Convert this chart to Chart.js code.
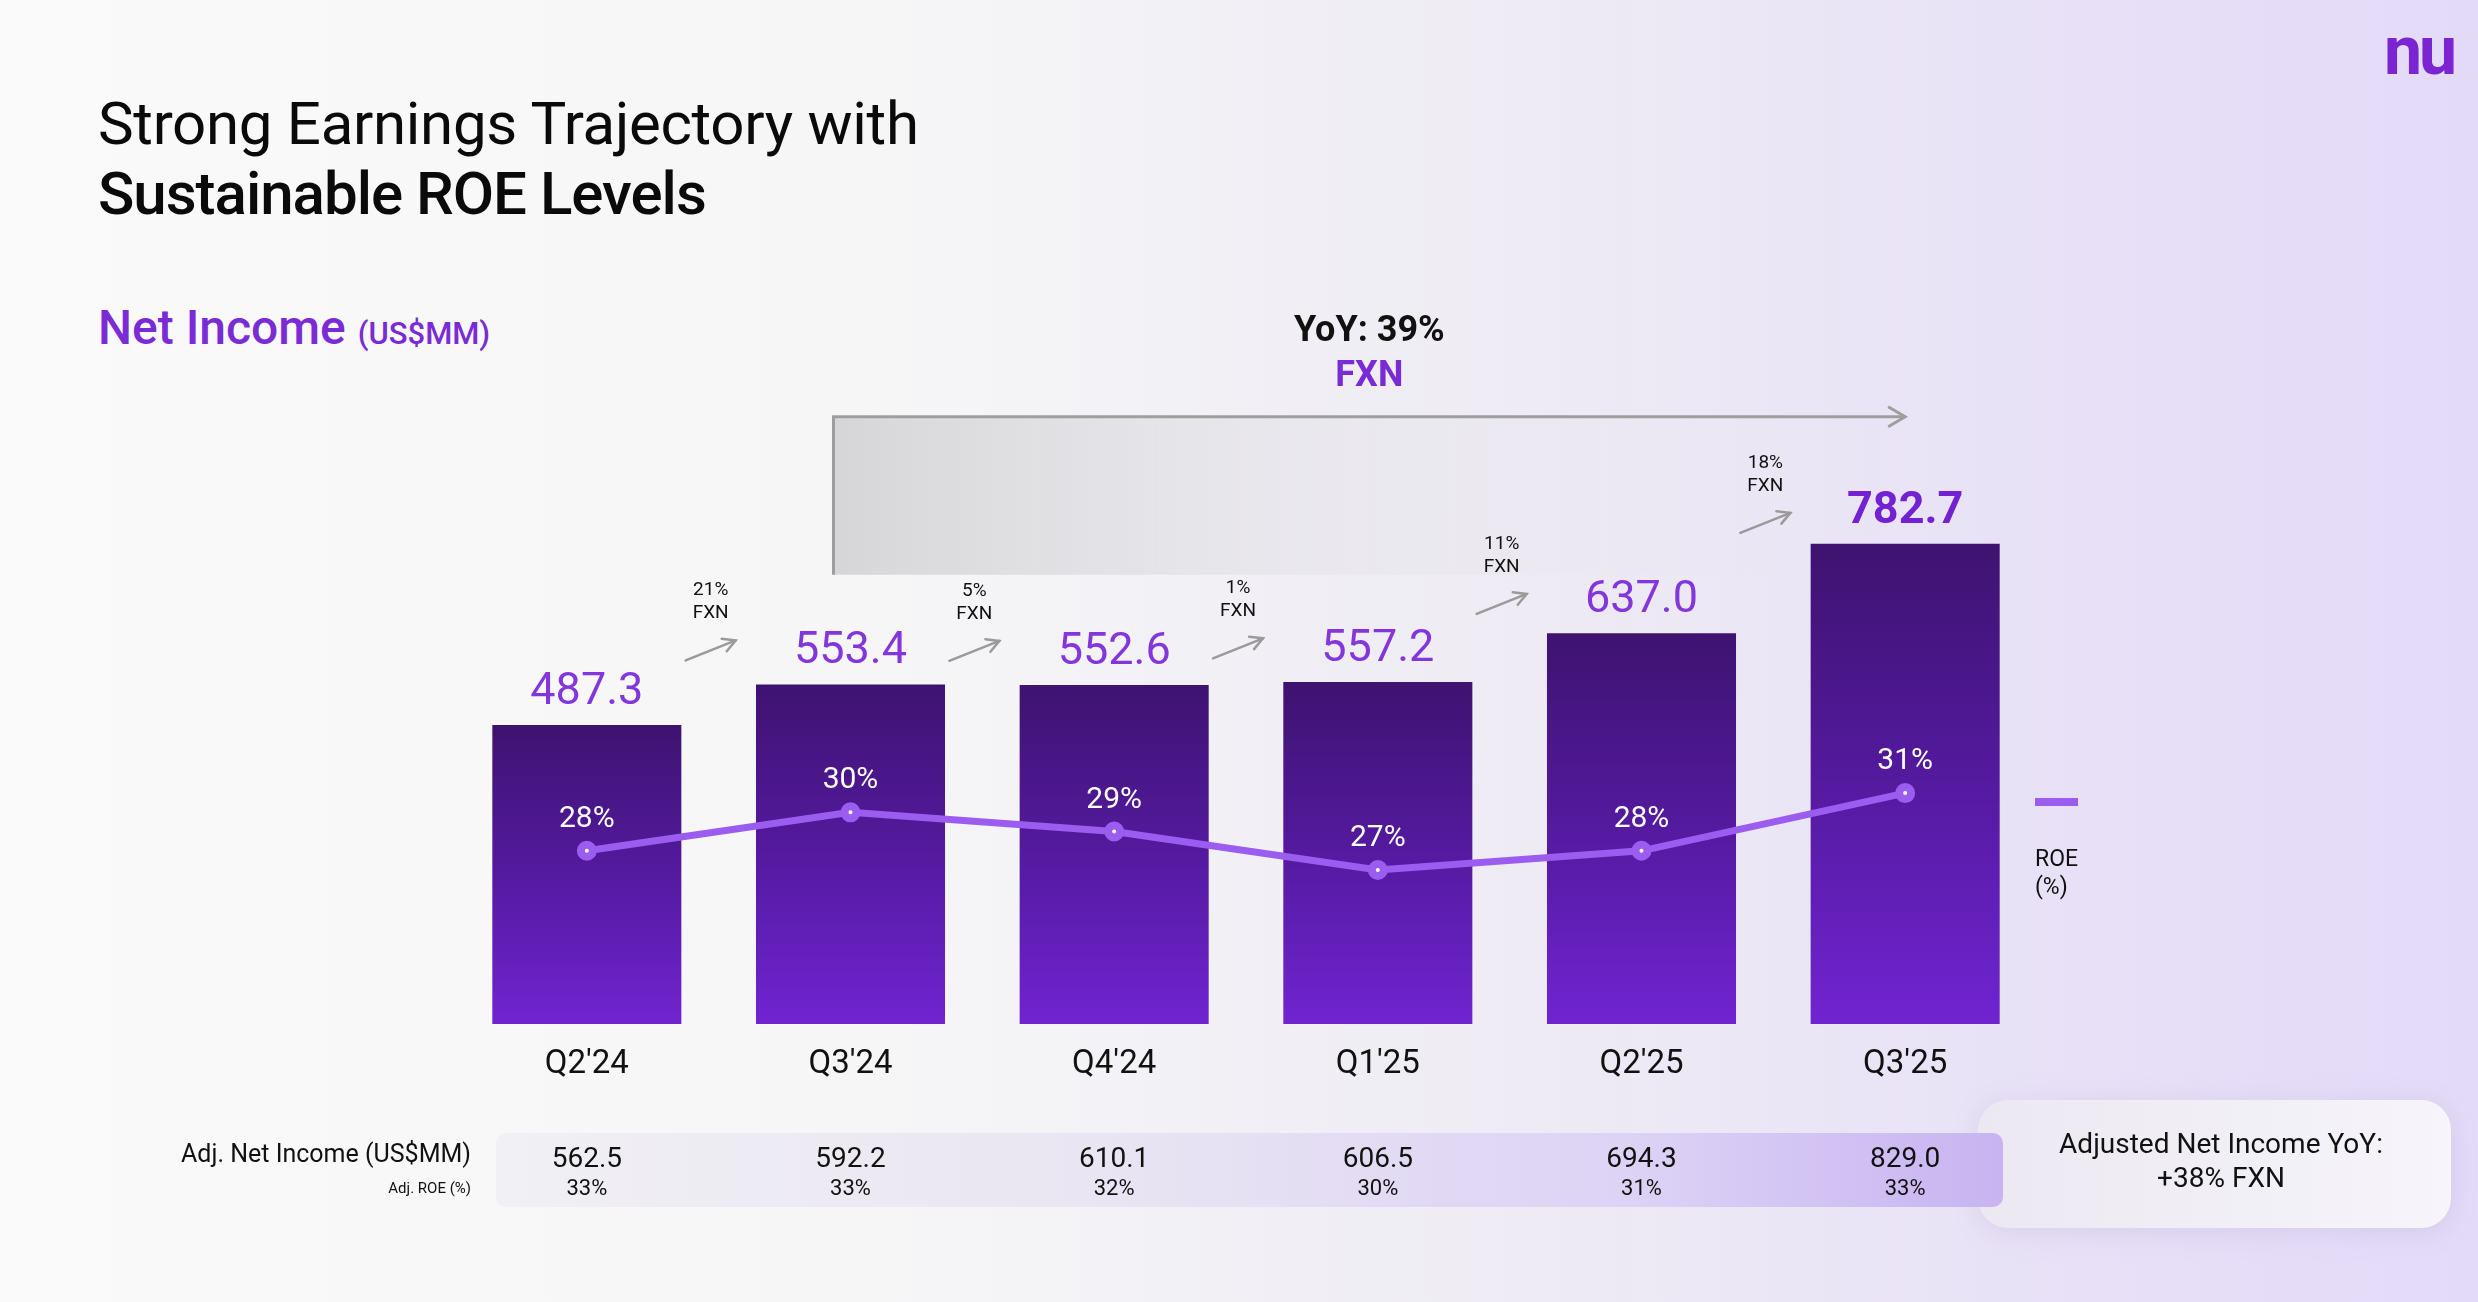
<!DOCTYPE html>
<html><head><meta charset="utf-8">
<script src="https://cdn.jsdelivr.net/npm/chart.js@4.4.1/dist/chart.umd.min.js"></script>
<style>
html,body{margin:0;padding:0;width:2478px;height:1302px;overflow:hidden;}
body{position:relative;font-family:Roboto,"Noto Sans",sans-serif;
 background:linear-gradient(90deg,#fafafa 0%,#f6f6f7 35%,#eeebf4 62%,#e7e0f7 85%,#e3daf8 100%);}
#c{position:absolute;left:0;top:0;}
.t{position:absolute;left:98px;line-height:1;white-space:nowrap;color:#0a0a0a;}
#logo{position:absolute;left:2384px;top:17px;font-size:68px;line-height:1;font-weight:700;color:#7a24d2;letter-spacing:-3px;}
</style></head><body>
<div class="t" id="t1" style="top:94px;font-size:60px;font-weight:400;letter-spacing:-0.3px;">Strong Earnings Trajectory with</div>
<div class="t" id="t2" style="top:164px;font-size:60px;font-weight:500;letter-spacing:-1px;">Sustainable ROE Levels</div>
<div class="t" id="t3" style="top:304px;font-size:48px;font-weight:500;color:#7a2bd6;letter-spacing:0;">Net Income <span style="font-size:31px;">(US$MM)</span></div>
<div id="logo">nu</div>
<canvas id="c" width="2478" height="1302"></canvas>
<script>
const categories = ["Q2'24", "Q3'24", "Q4'24", "Q1'25", "Q2'25", "Q3'25"];
const netIncome = [487.3, 553.4, 552.6, 557.2, 637.0, 782.7];
const roePct = [28, 30, 29, 27, 28, 31];
const qoqFxn = ["21%", "5%", "1%", "11%", "18%"];
const yoyText = ["YoY: 39%", "FXN"];
const adjNetIncome = [562.5, 592.2, 610.1, 606.5, 694.3, 829.0];
const adjRoe = [33, 33, 32, 30, 31, 33];
const rowLabels = ["Adj. Net Income (US$MM)", "Adj. ROE (%)"];
const adjYoyText = ["Adjusted Net Income YoY:", "+38% FXN"];
const legendText = ["ROE", "(%)"];

const FAM = 'Roboto, "Noto Sans", sans-serif';
const F = (w, s) => `${w} ${s}px ${FAM}`;
function txt(ctx, s, x, y, font, color, align) {
  ctx.save();
  ctx.font = font; ctx.fillStyle = color; ctx.textAlign = align || 'center';
  ctx.textBaseline = 'alphabetic';
  ctx.fillText(s, x, y);
  ctx.restore();
}
function rrect(ctx, x, y, w, h, r) {
  ctx.beginPath();
  ctx.moveTo(x + r, y);
  ctx.arcTo(x + w, y, x + w, y + h, r);
  ctx.arcTo(x + w, y + h, x, y + h, r);
  ctx.arcTo(x, y + h, x, y, r);
  ctx.arcTo(x, y, x + w, y, r);
  ctx.closePath();
}

const annot = {
  id: 'annot',
  beforeDatasetsDraw(chart) {
    const ctx = chart.ctx, xs = chart.scales.x, ys = chart.scales.y;
    const bx0 = xs.getPixelForValue(1) - 17;
    const bx1 = xs.getPixelForValue(5);
    const by = ys.getPixelForValue(Math.max(...netIncome)) - 127;
    const bb = by + 158;
    ctx.save();
    const g = ctx.createLinearGradient(bx0, 0, bx1, 0);
    g.addColorStop(0, 'rgba(210,210,212,0.9)');
    g.addColorStop(0.45, 'rgba(228,227,232,0.55)');
    g.addColorStop(1, 'rgba(236,232,244,0)');
    ctx.fillStyle = g;
    ctx.fillRect(bx0, by, bx1 - bx0, bb - by);
    ctx.strokeStyle = '#9e9e9e'; ctx.lineWidth = 3; ctx.lineJoin = 'miter';
    ctx.beginPath(); ctx.moveTo(bx0, bb); ctx.lineTo(bx0, by); ctx.lineTo(bx1, by); ctx.stroke();
    ctx.beginPath(); ctx.moveTo(bx1 - 17, by - 10); ctx.lineTo(bx1, by); ctx.lineTo(bx1 - 17, by + 10); ctx.stroke();
    ctx.restore();
    const cx = (bx0 + bx1) / 2;
    txt(ctx, yoyText[0], cx, by - 76, F(700, 36), '#111');
    txt(ctx, yoyText[1], cx, by - 31, F(700, 36), '#7a2bd6');
  },
  afterDatasetsDraw(chart) {
    const ctx = chart.ctx;
    const bars = chart.getDatasetMeta(0).data;
    const pts = chart.getDatasetMeta(1).data;
    bars.forEach((el, i) => {
      const last = i === bars.length - 1;
      txt(ctx, netIncome[i].toFixed(1), el.x, el.y - 21, F(last ? 700 : 400, 45), last ? '#7322d1' : '#8236dc');
    });
    pts.forEach((el, i) => {
      txt(ctx, roePct[i] + '%', el.x, el.y - 24, F(400, 30), '#ffffff');
    });
    ctx.save();
    const refTop = bars[1].y;
    for (let i = 0; i < qoqFxn.length; i++) {
      const gx = (bars[i].x + bars[i + 1].x) / 2 - 8;
      const nextTop = bars[i + 1].y;
      const sy = nextTop - 24 + 0.093 * (refTop - nextTop);
      const x0 = gx - 25, y0 = sy, x1 = gx + 25, y1 = sy - 20;
      ctx.strokeStyle = '#9a9a9a'; ctx.lineWidth = 2.5; ctx.lineCap = 'round';
      ctx.beginPath(); ctx.moveTo(x0, y0); ctx.lineTo(x1, y1); ctx.stroke();
      const a = Math.atan2(y1 - y0, x1 - x0);
      ctx.beginPath();
      ctx.moveTo(x1 - 14 * Math.cos(a - 0.5), y1 - 14 * Math.sin(a - 0.5));
      ctx.lineTo(x1, y1);
      ctx.lineTo(x1 - 14 * Math.cos(a + 0.5), y1 - 14 * Math.sin(a + 0.5));
      ctx.stroke();
      txt(ctx, qoqFxn[i], gx, sy - 65, F(400, 19), '#111');
      txt(ctx, 'FXN', gx, sy - 42, F(400, 19), '#111');
    }
    ctx.restore();
  },
  afterDraw(chart) {
    const ctx = chart.ctx, area = chart.chartArea;
    const bars = chart.getDatasetMeta(0).data;
    const lx = area.right - 2, ly = area.top + 502;
    ctx.save();
    ctx.fillStyle = '#9b5cf0';
    ctx.fillRect(lx, ly - 4, 43, 8);
    ctx.restore();
    txt(ctx, legendText[0], lx, ly + 64, F(400, 23), '#111', 'left');
    txt(ctx, legendText[1], lx, ly + 92, F(400, 23), '#111', 'left');
    ctx.save();
    ctx.shadowColor = 'rgba(110,90,150,0.13)'; ctx.shadowBlur = 26; ctx.shadowOffsetY = 4;
    const bg = ctx.createLinearGradient(1978, 0, 2451, 0);
    bg.addColorStop(0, '#ebe8f1'); bg.addColorStop(1, '#f7f5fb');
    ctx.fillStyle = bg;
    rrect(ctx, 1978, 1100, 473, 128, 30); ctx.fill();
    ctx.restore();
    txt(ctx, adjYoyText[0], 2221, 1153, F(400, 28), '#111');
    txt(ctx, adjYoyText[1], 2221, 1187, F(400, 28), '#111');
    const bl = area.left + 41, br = area.right - 34;
    ctx.save();
    const g = ctx.createLinearGradient(bl, 0, br, 0);
    g.addColorStop(0, '#f1f0f4'); g.addColorStop(0.4, '#e9e5f2'); g.addColorStop(0.75, '#ddd3f5'); g.addColorStop(1, '#c7b4f1');
    ctx.fillStyle = g;
    rrect(ctx, bl, 1133, br - bl, 74, 10); ctx.fill();
    ctx.restore();
    txt(ctx, rowLabels[0], 471, 1162, F(400, 25), '#111', 'right');
    txt(ctx, rowLabels[1], 471, 1193, F(400, 15), '#111', 'right');
    bars.forEach((el, i) => {
      txt(ctx, adjNetIncome[i].toFixed(1), el.x, 1167, F(400, 28), '#111');
      txt(ctx, adjRoe[i] + '%', el.x, 1195, F(400, 22), '#111');
    });
  }
};

Chart.defaults.font.family = FAM;
new Chart(document.getElementById('c'), {
  data: {
    labels: categories,
    datasets: [
      {
        type: 'bar', label: 'Net Income', data: netIncome, yAxisID: 'y', order: 1,
        barPercentage: 0.717, categoryPercentage: 1.0, borderWidth: 0,
        backgroundColor: (c) => {
          const ch = c.chart, a = ch.chartArea;
          if (!a || c.type !== 'data') return '#5a1db0';
          const yTop = ch.scales.y.getPixelForValue(c.raw);
          const g = ch.ctx.createLinearGradient(0, yTop, 0, a.bottom);
          g.addColorStop(0, '#3e1370'); g.addColorStop(0.5, '#541a9f'); g.addColorStop(1, '#7024d0');
          return g;
        }
      },
      {
        type: 'line', label: 'ROE', data: roePct, yAxisID: 'y1', order: 0,
        borderColor: '#9b5cf0', borderWidth: 7, tension: 0,
        pointRadius: 6, pointBorderWidth: 8, pointBackgroundColor: '#ffffff', pointBorderColor: '#9b5cf0',
        pointHoverRadius: 6
      }
    ]
  },
  options: {
    responsive: false, animation: false,
    layout: { padding: { left: 455, right: 441, top: 300, bottom: 218 } },
    plugins: { legend: { display: false }, tooltip: { enabled: false } },
    scales: {
      x: {
        grid: { display: false, drawTicks: false }, border: { display: false },
        ticks: { font: { family: FAM, size: 33 }, color: '#111', padding: 21 },
        afterFit: (s) => { s.height = 60; }
      },
      y: { display: false, min: 0, max: 1180 },
      y1: { display: false, min: 19.0, max: 56.62 }
    }
  },
  plugins: [annot]
});
</script>
</body></html>
